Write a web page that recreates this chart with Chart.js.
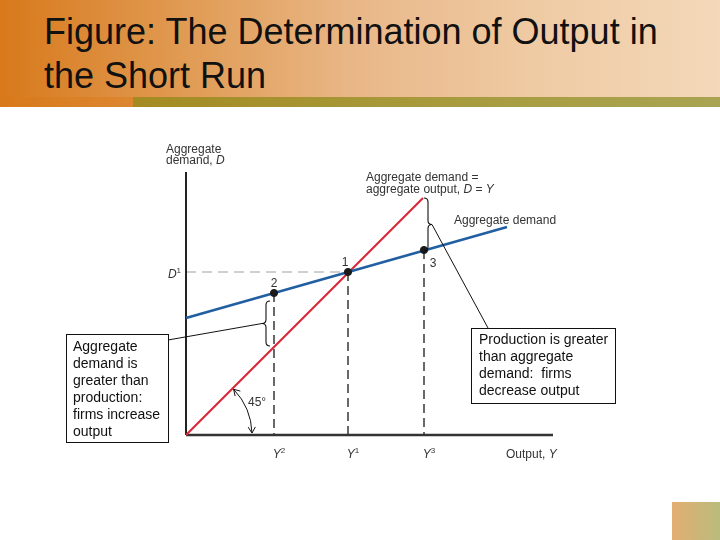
<!DOCTYPE html>
<html>
<head>
<meta charset="utf-8">
<script src="https://cdn.jsdelivr.net/npm/chart.js@4.4.0/dist/chart.umd.min.js"></script>
<style>
  html, body { margin:0; padding:0; background:#fff; }
  #slide { position:relative; width:720px; height:540px; overflow:hidden; background:#fff; font-family:"Liberation Sans", Arial, sans-serif; }
  #hdr { position:absolute; left:0; top:0; width:720px; height:97px;
         background:linear-gradient(to right, #d8791b 0%, #e09a52 25%, #e9b889 50%, #efcba4 75%, #f3d8b9 100%); }
  #hdrLeft { position:absolute; left:0; top:97px; width:133px; height:10px; background:linear-gradient(to right, #d8791b, #dc8630); }
  #olive { position:absolute; left:133px; top:97px; width:587px; height:10px; background:linear-gradient(to right, #a48a22 0%, #a79a3c 50%, #a9a452 100%); }
  #corner { position:absolute; left:672px; top:502px; width:48px; height:38px; background:linear-gradient(to right, #e3ae72, #b9bb7c); }
  #title { position:absolute; left:44px; top:10px; font-size:36px; line-height:44px; color:#111; white-space:nowrap; }
  #c { position:absolute; left:0; top:0; }
</style>
</head>
<body>
<div id="slide">
  <div id="hdr"></div>
  <div id="hdrLeft"></div>
  <div id="olive"></div>
  <div id="corner"></div>
  <div id="title">Figure: The Determination of Output in<br>the Short Run</div>
  <canvas id="c" width="720" height="540"></canvas>
</div>
<script>
// ---- data (diagram units) ----
const adOutput = [0, 321];          // aggregate demand line, output values
const adDemand = [117, 208];        // aggregate demand line, demand values
const lineOutput = [0, 237];        // 45-degree line D = Y
const eqLabels = ['1', '2', '3'];
const eqOutput = [162, 88, 238];
const eqDemand = [163, 142, 185];
const xTickLabels = ['2', '1', '3']; // superscripts on Y
const xTickOutput = [88, 162, 238];
const yAxisTop = 263;
const xAxisEnd = 367;

const RED = '#d8283a', BLUE = '#215fa2', AXIS = '#333333';

const ds = [];
// points (top-most)
ds.push({ data: eqOutput.map((x, i) => ({x, y: eqDemand[i]})), showLine:false,
  pointRadius:3.6, pointBackgroundColor:'#1a1a1a', pointBorderColor:'#1a1a1a', clip:false });
// AD line
ds.push({ data: adOutput.map((x, i) => ({x, y: adDemand[i]})), showLine:true, borderColor:BLUE,
  borderWidth:2.6, pointRadius:0, clip:false });
// 45 line
ds.push({ data: lineOutput.map(v => ({x:v, y:v})), showLine:true, borderColor:RED,
  borderWidth:2.2, pointRadius:0, clip:false });
// axes
ds.push({ data: [{x:0, y:0}, {x:xAxisEnd, y:0}], showLine:true, borderColor:AXIS, borderWidth:2.6, pointRadius:0, clip:false });
ds.push({ data: [{x:0, y:0}, {x:0, y:yAxisTop}], showLine:true, borderColor:'#222', borderWidth:2, pointRadius:0, clip:false });
// vertical dashed lines
eqOutput.forEach((x, i) => {
  ds.push({ data: [{x, y:eqDemand[i]}, {x, y:0}], showLine:true, borderColor:'#444', borderWidth:1.6,
    borderDash:[9,5], pointRadius:0, clip:false });
});
// horizontal D1 dashed
ds.push({ data: [{x:0, y:eqDemand[0]}, {x:eqOutput[0], y:eqDemand[0]}], showLine:true, borderColor:'#a0a0a0',
  borderWidth:1.2, borderDash:[10,6], pointRadius:0, clip:false });

const FONT = '"Liberation Sans", Arial, sans-serif';

function rich(ctx, segs, x, y, size, align, color) {
  ctx.save();
  ctx.fillStyle = color || '#333';
  ctx.textBaseline = 'alphabetic';
  ctx.textAlign = 'left';
  const fontFor = s => (s.it ? 'italic ' : '') + (s.sup ? Math.round(size*0.68) : size) + 'px ' + FONT;
  let w = 0;
  segs.forEach(s => { ctx.font = fontFor(s); w += ctx.measureText(s.t).width; });
  let cx = align === 'center' ? x - w/2 : align === 'right' ? x - w : x;
  segs.forEach(s => {
    ctx.font = fontFor(s);
    ctx.fillText(s.t, cx, s.sup ? y - size*0.42 : y);
    cx += ctx.measureText(s.t).width;
  });
  ctx.restore();
}

function brace(ctx, x, y1, y2, dir, d) {
  const ym = (y1 + y2) / 2;
  ctx.beginPath();
  ctx.moveTo(x - dir*d, y1);
  ctx.quadraticCurveTo(x, y1, x, y1 + d);
  ctx.lineTo(x, ym - d);
  ctx.quadraticCurveTo(x, ym, x + dir*d, ym);
  ctx.quadraticCurveTo(x, ym, x, ym + d);
  ctx.lineTo(x, y2 - d);
  ctx.quadraticCurveTo(x, y2, x - dir*d, y2);
  ctx.stroke();
}

function arrowHead(ctx, x, y, ang, len) {
  ctx.beginPath();
  ctx.moveTo(x + len*Math.cos(ang + 2.6), y + len*Math.sin(ang + 2.6));
  ctx.lineTo(x, y);
  ctx.lineTo(x + len*Math.cos(ang - 2.6), y + len*Math.sin(ang - 2.6));
  ctx.stroke();
}

const annot = {
  id: 'annot',
  afterDatasetsDraw(chart) {
    const ctx = chart.ctx;
    const xs = chart.scales.x, ys = chart.scales.y;
    const X = v => xs.getPixelForValue(v), Y = v => ys.getPixelForValue(v);
    ctx.save();
    ctx.strokeStyle = '#111';
    ctx.lineWidth = 1;

    // axis titles
    rich(ctx, [{t:'Aggregate'}], X(-20), Y(282), 12, 'left');
    rich(ctx, [{t:'demand, '}, {t:'D', it:true}], X(-20), Y(271), 12, 'left');
    rich(ctx, [{t:'Output, '}, {t:'Y', it:true}], X(320), Y(0) + 23, 12, 'left');
    // line labels
    rich(ctx, [{t:'Aggregate demand ='}], X(180), Y(254), 12, 'left');
    rich(ctx, [{t:'aggregate output, '}, {t:'D', it:true}, {t:' = '}, {t:'Y', it:true}], X(180), Y(242), 12, 'left');
    rich(ctx, [{t:'Aggregate demand'}], X(268), Y(211), 12, 'left');
    // point labels
    const offs = [[-3, -6], [0, -6], [9, 17]];
    eqLabels.forEach((l, i) => {
      rich(ctx, [{t:l}], X(eqOutput[i]) + offs[i][0], Y(eqDemand[i]) + offs[i][1], 12, 'center');
    });
    // D1
    rich(ctx, [{t:'D', it:true}, {t:'1', sup:true}], X(0) - 5, Y(eqDemand[0]) + 6, 12, 'right');
    // Y ticks
    xTickOutput.forEach((v, i) => {
      rich(ctx, [{t:'Y', it:true}, {t:xTickLabels[i], sup:true}], X(v) + 5, Y(0) + 23, 12, 'center');
    });
    // 45 degree arc
    const ox = X(0), oy = Y(0);
    const r = X(66) - X(0);
    const a1 = -Math.PI/4 + 0.02, a2 = -0.03;
    ctx.beginPath();
    ctx.arc(ox, oy, r, a1, a2);
    ctx.stroke();
    arrowHead(ctx, ox + r*Math.cos(a1), oy + r*Math.sin(a1), a1 - Math.PI/2, 7);
    arrowHead(ctx, ox + r*Math.cos(a2), oy + r*Math.sin(a2), a2 + Math.PI/2, 7);
    rich(ctx, [{t:'45°'}], X(62), Y(29), 12, 'left');

    // braces
    ctx.lineWidth = 1.1;
    brace(ctx, X(eqOutput[1]) - 8, Y(eqDemand[1]) + 8, Y(eqOutput[1]) - 1, -1, 4);
    brace(ctx, X(eqOutput[2]) + 4, Y(eqOutput[2] - 1), Y(eqDemand[2]) + 1, 1, 4);

    // callout boxes
    ctx.lineWidth = 1;
    const bx1 = X(-120), by1 = Y(101), bx2 = X(-18), by2 = Y(-7);
    ctx.fillStyle = '#fff';
    ctx.fillRect(bx1, by1, bx2 - bx1, by2 - by1);
    ctx.strokeRect(bx1 + 0.5, by1 + 0.5, bx2 - bx1, by2 - by1);
    const rx1 = X(285), ry1 = Y(107), rx2 = X(429), ry2 = Y(32);
    ctx.fillRect(rx1, ry1, rx2 - rx1, ry2 - ry1);
    ctx.strokeRect(rx1 + 0.5, ry1 + 0.5, rx2 - rx1, ry2 - ry1);

    // connectors
    const ltipX = X(eqOutput[1]) - 12, ltipY = (Y(eqDemand[1]) + 8 + Y(eqOutput[1]) - 1) / 2;
    ctx.beginPath(); ctx.moveTo(ltipX, ltipY); ctx.lineTo(bx2, Y(95)); ctx.stroke();
    const rtipX = X(eqOutput[2]) + 8, rtipY = (Y(eqOutput[2] - 1) + Y(eqDemand[2]) + 1) / 2;
    ctx.beginPath(); ctx.moveTo(rtipX, rtipY); ctx.lineTo(X(302), ry1); ctx.stroke();

    // box text
    const leftLines = ['Aggregate', 'demand is', 'greater than', 'production:', 'firms increase', 'output'];
    leftLines.forEach((t, i) => rich(ctx, [{t}], bx1 + 7, by1 + 17 + i*17, 14, 'left', '#111'));
    const rightLines = ['Production is greater', 'than aggregate', 'demand:  firms', 'decrease output'];
    rightLines.forEach((t, i) => rich(ctx, [{t}], rx1 + 8, ry1 + 16 + i*17, 14, 'left', '#111'));
    ctx.restore();
  }
};

new Chart(document.getElementById('c'), {
  type: 'scatter',
  data: { datasets: ds },
  options: {
    responsive: false,
    animation: false,
    devicePixelRatio: 1,
    events: [],
    layout: { padding: { left: 186, right: 164, top: 170, bottom: 105 } },
    plugins: { legend: { display: false }, tooltip: { enabled: false } },
    scales: {
      x: { type: 'linear', min: 0, max: 370, display: false },
      y: { type: 'linear', min: 0, max: 265, display: false }
    }
  },
  plugins: [annot]
});
</script>
</body>
</html>
